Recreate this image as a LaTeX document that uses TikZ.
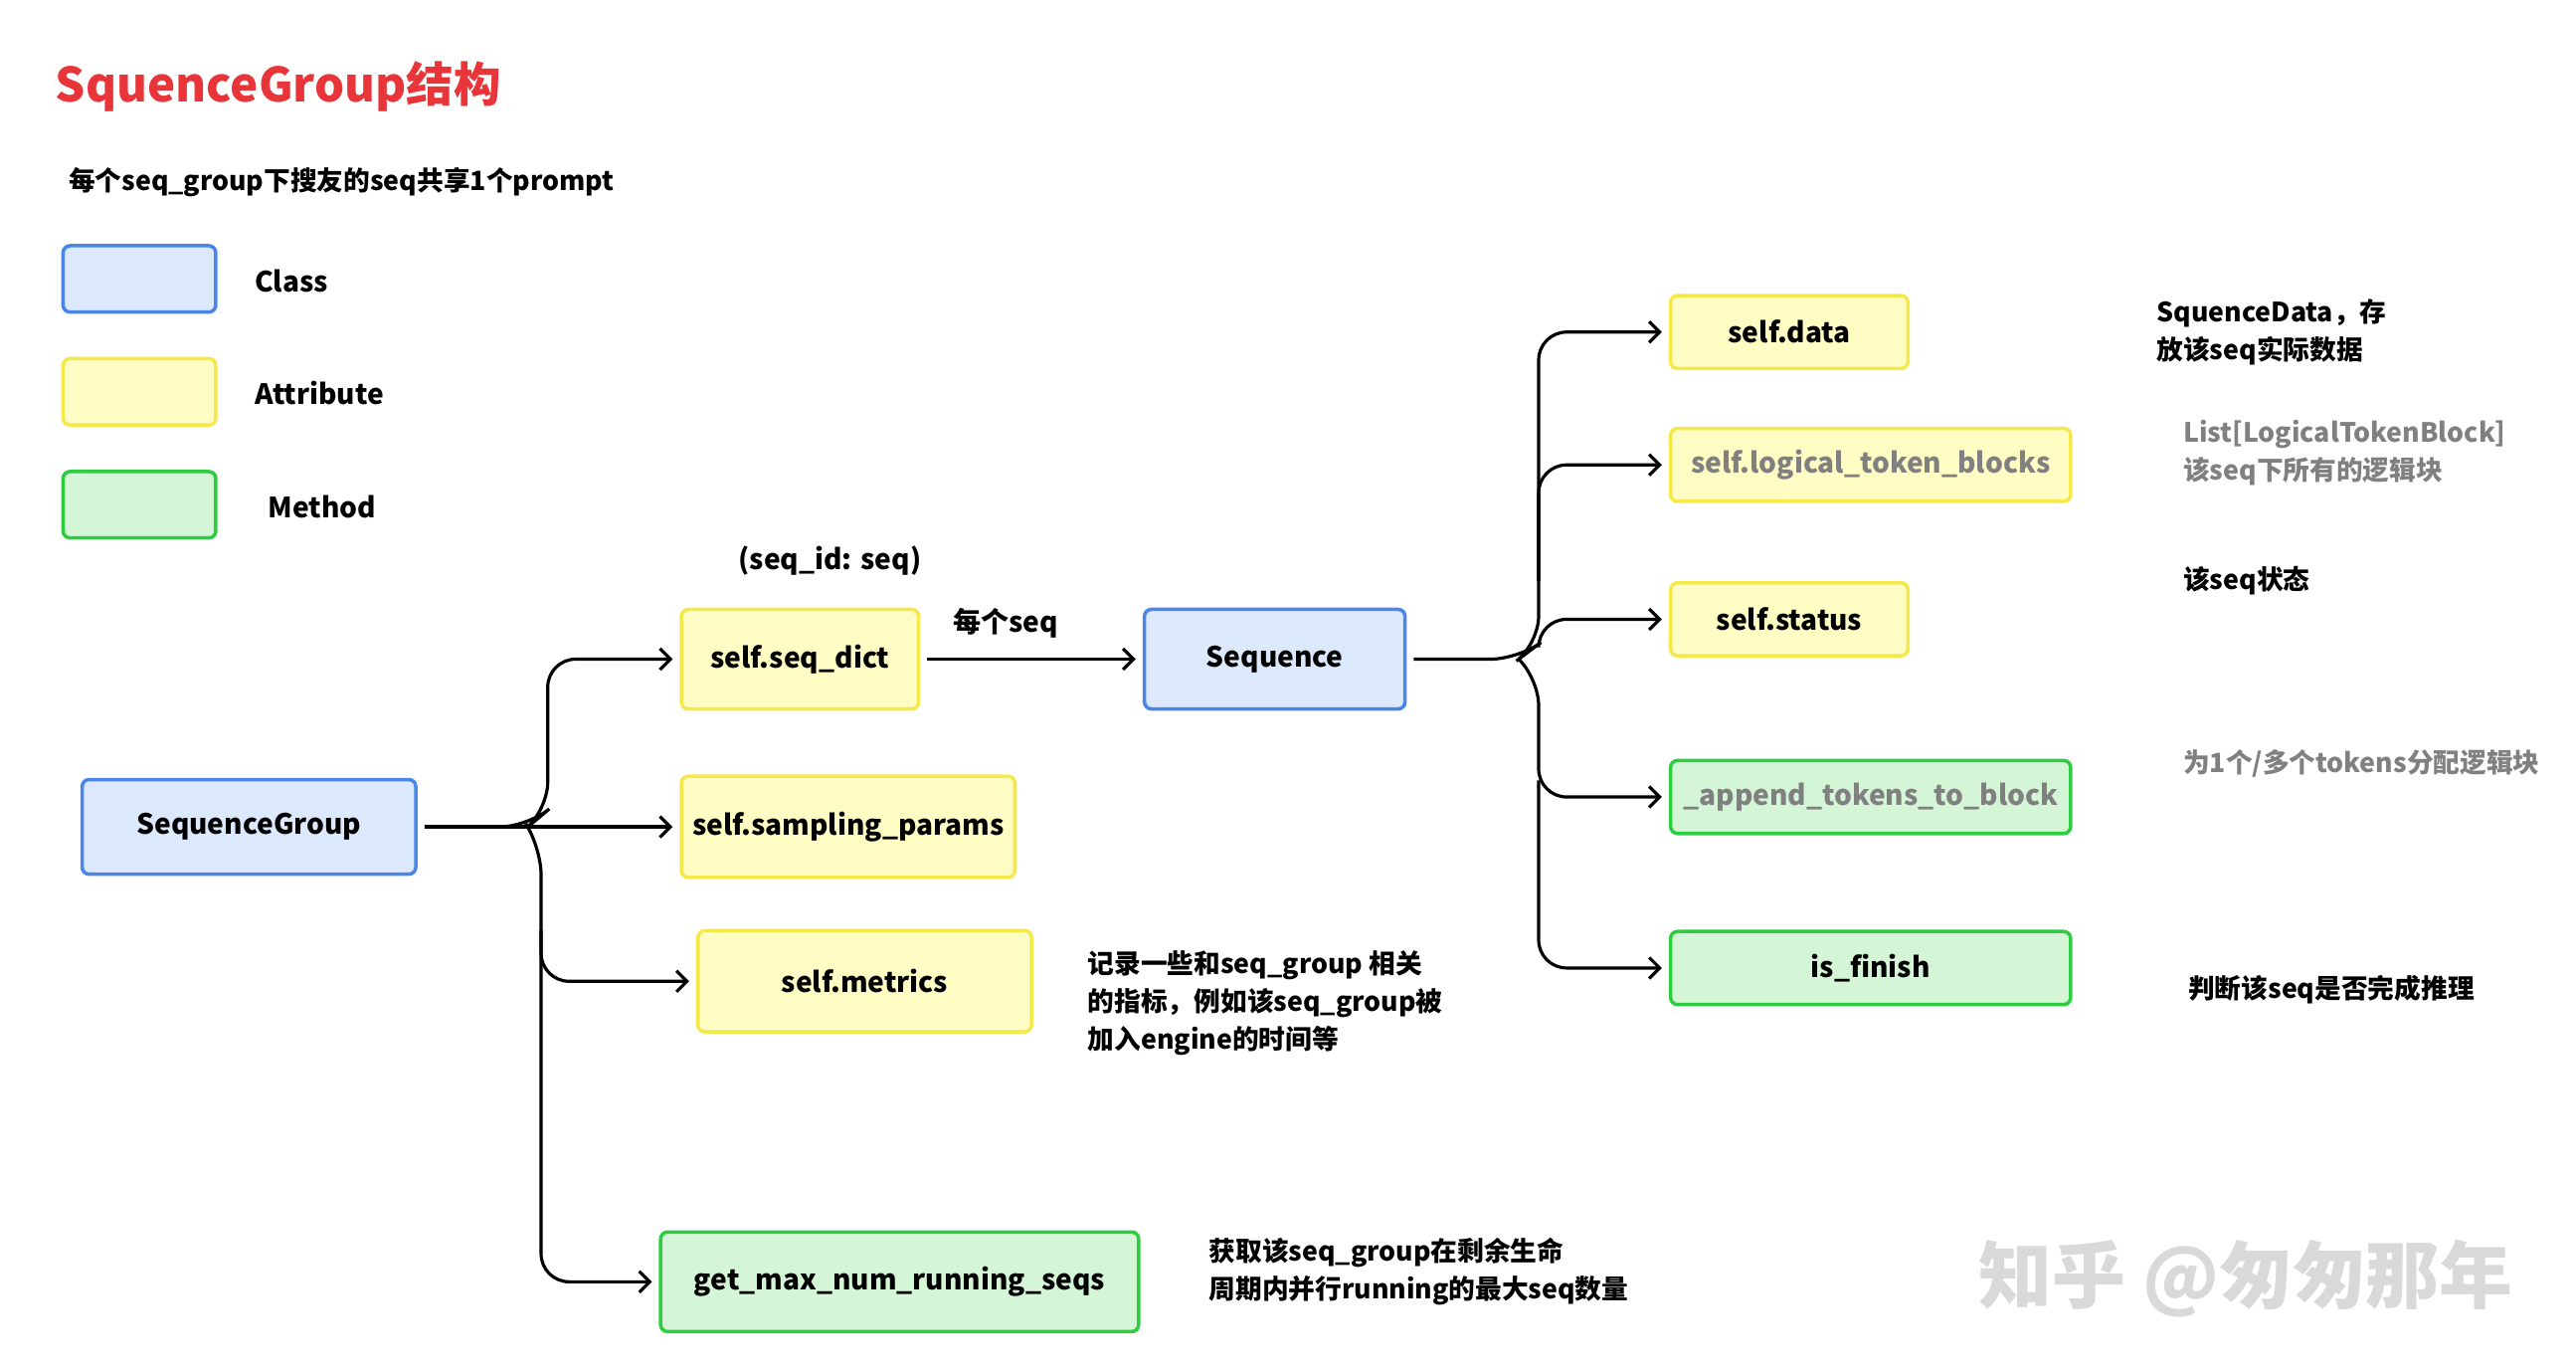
\documentclass[tikz,border=0pt]{standalone}
\usepackage{fontspec}
\setmainfont{Noto Sans CJK SC}
\usetikzlibrary{positioning,arrows.meta}
\definecolor{clsfill}{HTML}{DCE8FC}
\definecolor{clsdraw}{HTML}{4A86E8}
\definecolor{atrfill}{HTML}{FFFDC4}
\definecolor{atrdraw}{HTML}{F5E84A}
\definecolor{mtdfill}{HTML}{D4F5D6}
\definecolor{mtddraw}{HTML}{2ECC40}
\definecolor{ttlred}{HTML}{E8353A}
\def\pxu{0.01669cm}
\begin{document}
\begin{tikzpicture}[x=0.01669cm,y=-0.01669cm,font=\fontsize{8}{10}\selectfont\bfseries]
 \tikzstyle{box}=[draw, rounded corners=2pt, line width=1pt, inner sep=0pt]
 \tikzstyle{cls}=[box, fill=clsfill, draw=clsdraw]
 \tikzstyle{atr}=[box, fill=atrfill, draw=atrdraw]
 \tikzstyle{mtd}=[box, fill=mtdfill, draw=mtddraw]
 \tikzstyle{note}=[anchor=west, align=left, font=\fontsize{7.6}{10.8}\selectfont\bfseries]
 \tikzstyle{arr}=[-{Straight Barb[length=3pt,width=6pt]}, line width=0.9pt, rounded corners=8pt]
 \useasboundingbox (0,0) rectangle (1552,826);
 %
 \node[anchor=west, text=ttlred, font=\fontsize{13.5}{16}\selectfont\bfseries] (title) at (26,52) {SquenceGroup结构};
 \node[note] (sub) at (34,110) {每个seq\_group下搜友的seq共享1个prompt};
 %
 \node[cls, minimum width=92*\pxu, minimum height=40*\pxu] (lc) at (84,168) {};
 \node[atr, minimum width=92*\pxu, minimum height=40*\pxu] (la) at (84,236) {};
 \node[mtd, minimum width=92*\pxu, minimum height=40*\pxu] (lm) at (84,304) {};
 \node[anchor=west] (tc) at (146,169) {Class};
 \node[anchor=west] (ta) at (146,237) {Attribute};
 \node[anchor=west] (tm) at (154,305) {Method};
 %
 \node[cls, minimum width=201*\pxu, minimum height=57*\pxu] (sg) at (150,498) {SequenceGroup};
 \node[atr, minimum width=143*\pxu, minimum height=60*\pxu] (sd) at (482,397) {self.seq\_dict};
 \node[atr, minimum width=201*\pxu, minimum height=61*\pxu] (sp) at (511,498) {self.sampling\_params};
 \node[atr, minimum width=201*\pxu, minimum height=61*\pxu] (sm) at (521,591) {self.metrics};
 \node[mtd, minimum width=288*\pxu, minimum height=60*\pxu] (gm) at (542,772) {get\_max\_num\_running\_seqs};
 \node[cls, minimum width=157*\pxu, minimum height=60*\pxu] (sq) at (768,397) {Sequence};
 %
 \node[atr, minimum width=143*\pxu, minimum height=44*\pxu] (dt) at (1078,200) {self.data};
 \node[atr, minimum width=241*\pxu, minimum height=44*\pxu, text=gray] (lt) at (1127,280) {self.logical\_token\_blocks};
 \node[atr, minimum width=143*\pxu, minimum height=44*\pxu] (st) at (1078,373) {self.status};
 \node[mtd, minimum width=241*\pxu, minimum height=44*\pxu, text=gray] (ap) at (1127,480) {\_append\_tokens\_to\_block};
 \node[mtd, minimum width=241*\pxu, minimum height=44*\pxu] (fi) at (1127,583) {is\_finish};
 %
 \node (sdl) at (500,338) {(seq\_id: seq)};
 \node (eql) at (606,375) {每个seq};
 \node[note] (n1) at (648,604) {记录一些和seq\_group 相关\\的指标，例如该seq\_group被\\加入engine的时间等};
 \node[note] (n2) at (721,766) {获取该seq\_group在剩余生命\\周期内并行running的最大seq数量};
 \node[note] (n3) at (1292,200) {SquenceData，存\\放该seq实际数据};
 \node[note, text=gray] (n4) at (1308,273) {List[LogicalTokenBlock]\\该seq下所有的逻辑块};
 \node[note] (n5) at (1308,350) {该seq状态};
 \node[note, text=gray] (n6) at (1308,460) {为1个/多个tokens分配逻辑块};
 \node[note] (n7) at (1311,596) {判断该seq是否完成推理};
 \node[anchor=west, text=black!15, font=\fontsize{21}{24}\selectfont\bfseries] (wm) at (1185,770) {知乎 @匆匆那年};
 %%
 \draw[arr] ([xshift=2pt]sg.east) -- (318,498) -- (330,488) |- ([xshift=-2pt]sd.west);
 \draw[arr] ([xshift=2pt]sg.east) -- ([xshift=-2pt]sp.west);
 \draw[arr] (318,498) -- (326,510) |- ([xshift=-2pt]sm.west);
 \draw[arr] (326,560) |- ([xshift=-2pt]gm.west);
 \draw[arr] ([xshift=2pt]sd.east) -- ([xshift=-2pt]sq.west);
 \draw[arr] ([xshift=2pt]sq.east) -- (915,397) -- (927,388) |- ([xshift=-2pt]dt.west);
 \draw[arr] (927,350) |- ([xshift=-2pt]lt.west);
 \draw[arr] (927,388) |- ([xshift=-2pt]st.west);
 \draw[arr] (915,397) -- (927,408) |- ([xshift=-2pt]ap.west);
 \draw[arr] (927,470) |- ([xshift=-2pt]fi.west);
\end{tikzpicture}
\end{document}
